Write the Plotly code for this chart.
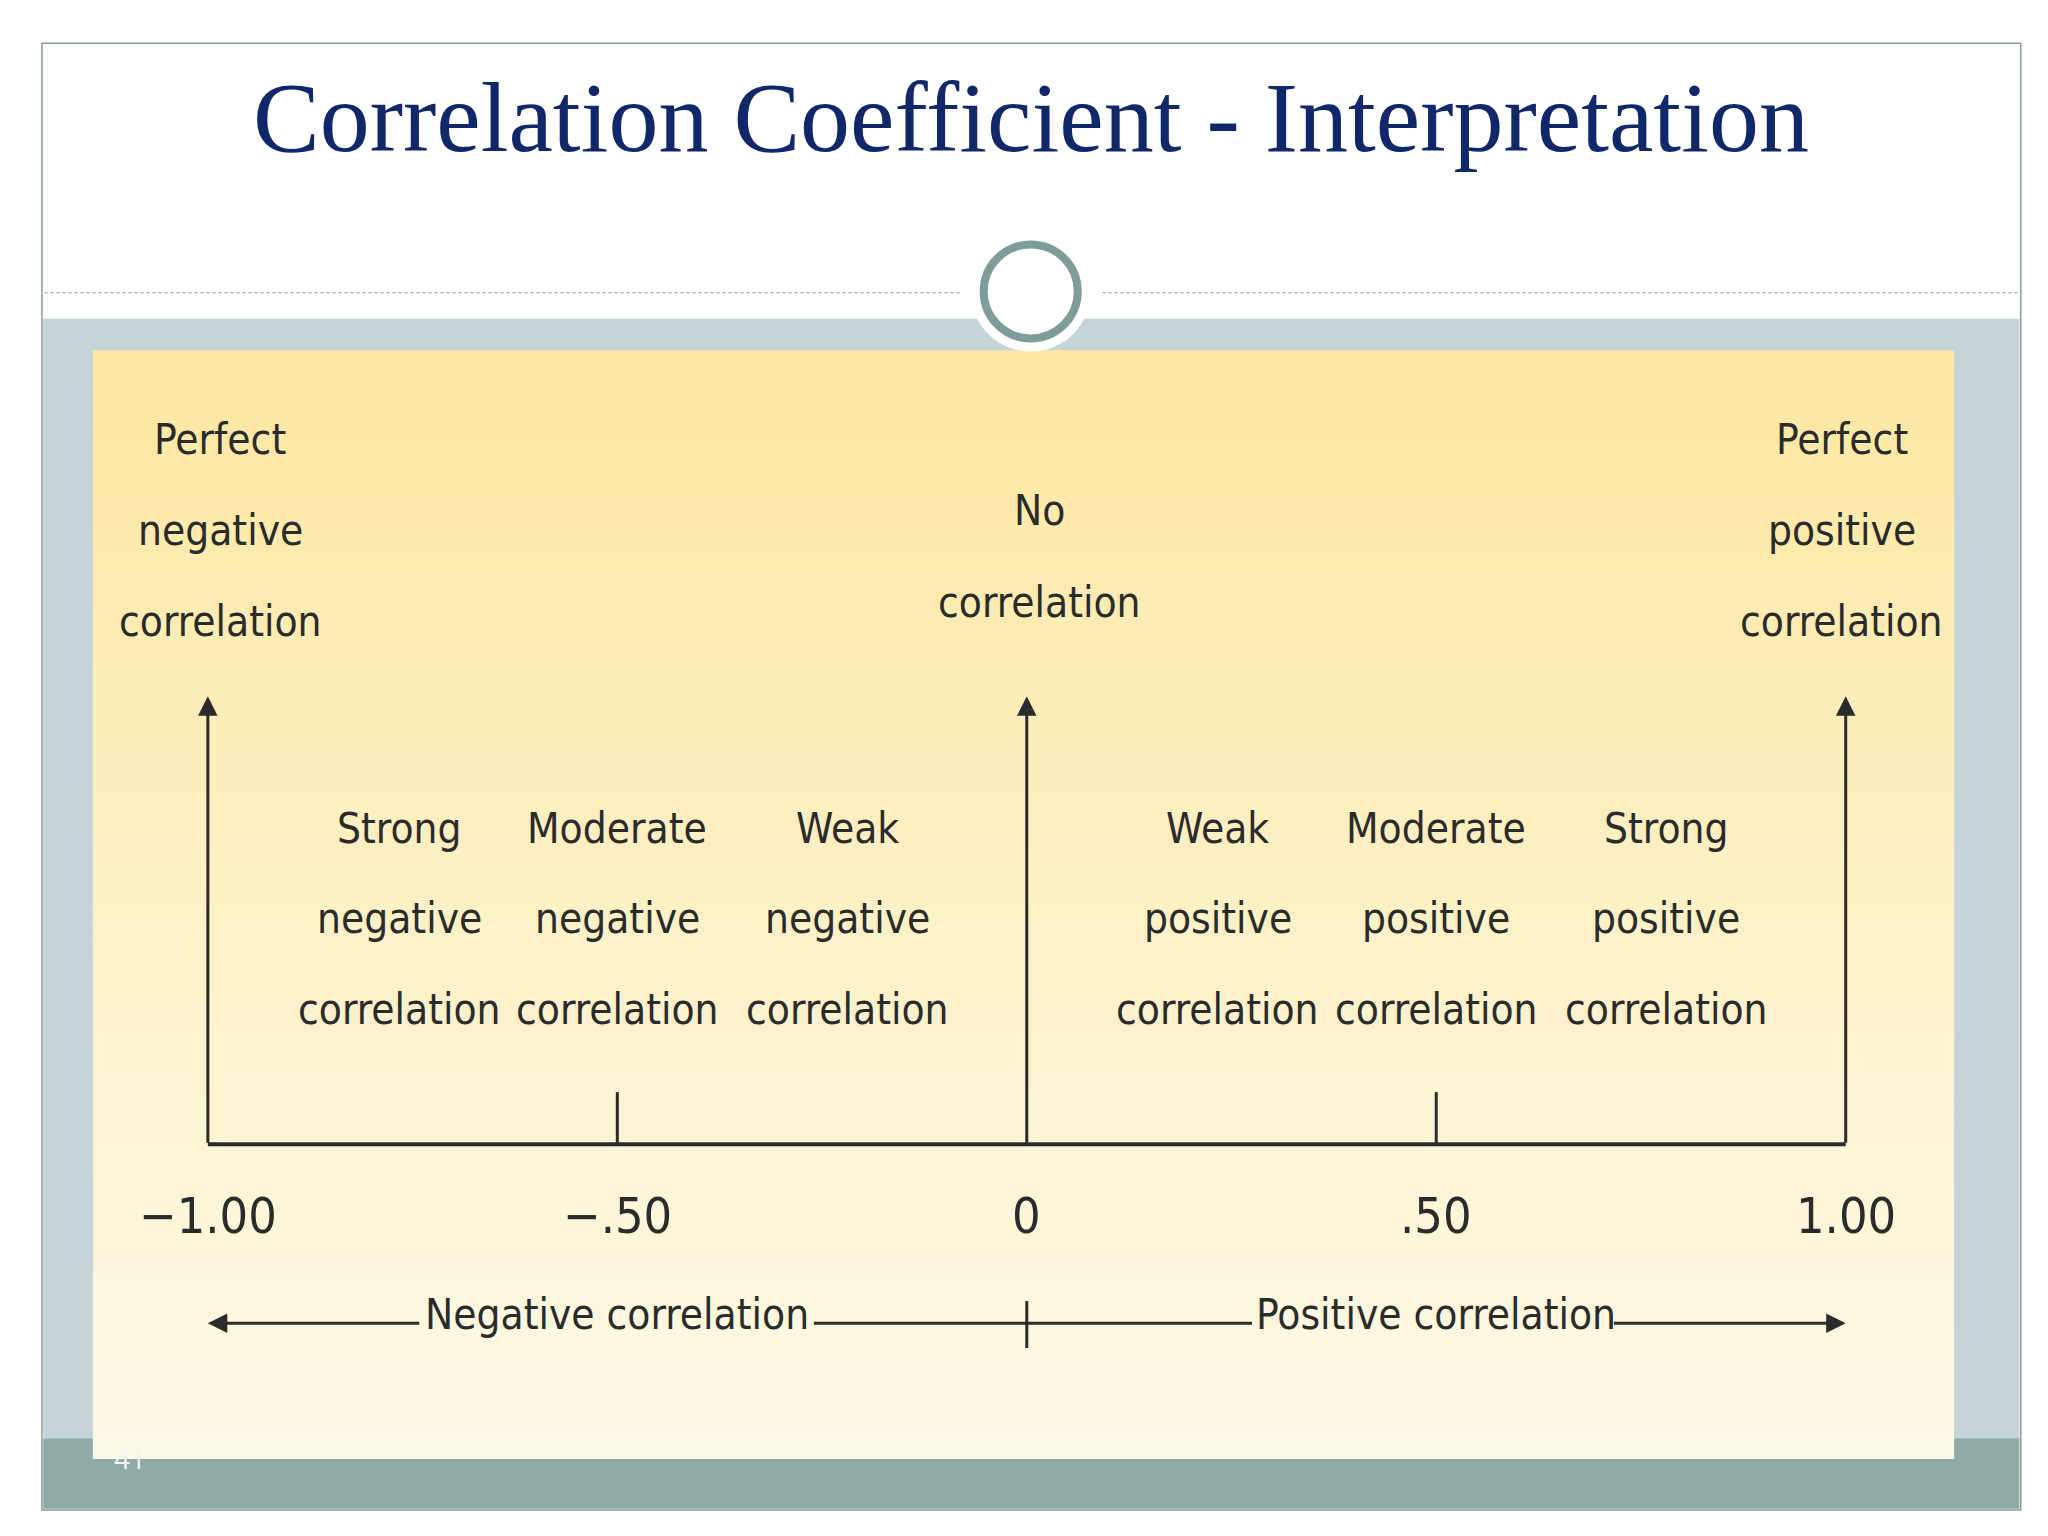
import plotly.graph_objects as go

# reference drawn on a 1568 x 1176 grid, rendered at 2048 x 1536
W, H = 2048, 1536
RW, RH = 1568, 1176

title = "Correlation Coefficient - Interpretation"
tick_vals = [-1.0, -0.5, 0.0, 0.5, 1.0]
tick_text = ["\u22121.00", "\u2212.50", "0", ".50", "1.00"]
minor_ticks = [-0.5, 0.5]
arrow_vals = [-1.0, 0.0, 1.0]

top_labels = [["Perfect", "negative", "correlation"], ["No", "correlation"], ["Perfect", "positive", "correlation"]]
top_x = [-0.985, 0.015, 0.995]
top_rows = [[330, 400, 470], [385, 455], [330, 400, 470]]

mid_labels = [["Strong", "negative", "correlation"], ["Moderate", "negative", "correlation"],
              ["Weak", "negative", "correlation"], ["Weak", "positive", "correlation"],
              ["Moderate", "positive", "correlation"], ["Strong", "positive", "correlation"]]
mid_x = [-0.766, -0.5, -0.219, 0.233, 0.5, 0.781]
mid_rows = [628, 697, 767]

bottom_labels = ["Negative correlation", "Positive correlation"]
bottom_x = [-0.5, 0.5]

FONT = "DejaVu Sans Condensed, Liberation Sans Narrow, sans-serif"
INK = "#2b2b2b"


def px(x):
    return x / RW


def py(y):
    return 1 - y / RH


fig = go.Figure()
shapes = []
ann = []

# slide frame
shapes.append(dict(type="rect", xref="paper", yref="paper", x0=px(26), x1=px(1541), y0=py(1150), y1=py(27),
                   fillcolor="white", line=dict(color="#8a9a9a", width=1.5), layer="below"))
shapes.append(dict(type="rect", xref="paper", yref="paper", x0=px(27), x1=px(1540), y0=py(1095), y1=py(238),
                   fillcolor="#c6d3d8", line_width=0, layer="below"))
shapes.append(dict(type="rect", xref="paper", yref="paper", x0=px(27), x1=px(1540), y0=py(1149), y1=py(1095),
                   fillcolor="#8eaba8", line_width=0, layer="below"))
for a, b in [(28, 730), (838, 1540)]:
    shapes.append(dict(type="line", xref="paper", yref="paper", x0=px(a), x1=px(b), y0=py(218), y1=py(218),
                       line=dict(color="#8a9a9a", width=1.2, dash="dot"), layer="below"))

# yellow gradient panel
top_c, bot_c = (253, 232, 163), (254, 250, 232)
n = 60
y0, y1 = 262, 1110
for i in range(n):
    t = i / (n - 1)
    c = tuple(int(top_c[k] + (bot_c[k] - top_c[k]) * t) for k in range(3))
    a = y0 + (y1 - y0) * i / n
    b = y0 + (y1 - y0) * (i + 1) / n + 1
    shapes.append(dict(type="rect", xref="paper", yref="paper", x0=px(65), x1=px(1490), y0=py(b), y1=py(a),
                       fillcolor="rgb(%d,%d,%d)" % c, line_width=0, layer="below"))

# circle ornament
r1, r2 = 46, 36
shapes.append(dict(type="circle", xref="paper", yref="paper", x0=px(783 - r1), x1=px(783 + r1),
                   y0=1 - (217 + r1) / RH, y1=1 - (217 - r1) / RH, fillcolor="white", line_width=0))
shapes.append(dict(type="circle", xref="paper", yref="paper", x0=px(783 - r2), x1=px(783 + r2),
                   y0=1 - (217 + r2) / RH, y1=1 - (217 - r2) / RH, fillcolor="white",
                   line=dict(color="#7d9c9a", width=8)))

# main axis
shapes.append(dict(type="line", xref="x", yref="y", x0=tick_vals[0], x1=tick_vals[-1], y0=870, y1=870,
                   line=dict(color=INK, width=4)))
for v in minor_ticks:
    shapes.append(dict(type="line", xref="x", yref="y", x0=v, x1=v, y0=830, y1=870, line=dict(color=INK, width=3)))
for v in arrow_vals:
    ann.append(dict(x=v, y=527, ax=v, ay=870, xref="x", yref="y", axref="x", ayref="y", text="",
                    showarrow=True, arrowhead=2, arrowsize=1.3, arrowwidth=3, arrowcolor=INK))

# bottom direction line
shapes.append(dict(type="line", xref="x", yref="y", x0=-0.26, x1=0.275, y0=1007, y1=1007,
                   line=dict(color=INK, width=3)))
shapes.append(dict(type="line", xref="x", yref="y", x0=0, x1=0, y0=990, y1=1026, line=dict(color=INK, width=3)))
ann.append(dict(x=-1.0, y=1007, ax=-0.74, ay=1007, xref="x", yref="y", axref="x", ayref="y", text="",
                showarrow=True, arrowhead=2, arrowsize=1.3, arrowwidth=3, arrowcolor=INK))
ann.append(dict(x=1.0, y=1007, ax=0.715, ay=1007, xref="x", yref="y", axref="x", ayref="y", text="",
                showarrow=True, arrowhead=2, arrowsize=1.3, arrowwidth=3, arrowcolor=INK))

# texts
for v, t in zip(tick_vals, tick_text):
    ann.append(dict(x=v, y=925, xref="x", yref="y", text=t, showarrow=False,
                    font=dict(family=FONT, size=50, color=INK)))
for lines, x, rows in zip(top_labels, top_x, top_rows):
    for s, y in zip(lines, rows):
        ann.append(dict(x=x, y=y, xref="x", yref="y", text=s, showarrow=False,
                        font=dict(family=FONT, size=42, color=INK)))
for lines, x in zip(mid_labels, mid_x):
    for s, y in zip(lines, mid_rows):
        ann.append(dict(x=x, y=y, xref="x", yref="y", text=s, showarrow=False,
                        font=dict(family=FONT, size=42, color=INK)))
for s, x in zip(bottom_labels, bottom_x):
    ann.append(dict(x=x, y=1000, xref="x", yref="y", text=s, showarrow=False,
                    font=dict(family=FONT, size=42, color=INK)))

ann.append(dict(x=px(783), y=py(84), xref="paper", yref="paper", yanchor="middle", text=title, showarrow=False,
                font=dict(family="Liberation Serif, DejaVu Serif, serif", size=100, color="#10286a")))
ann.append(dict(x=px(80), y=py(1126), xref="paper", yref="paper", text="41", showarrow=False,
                font=dict(family="Open Sans, sans-serif", size=28, color="#f2f6f6")))

fig.update_layout(
    width=W, height=H, margin=dict(l=0, r=0, t=0, b=0),
    paper_bgcolor="white", plot_bgcolor="rgba(0,0,0,0)",
    shapes=shapes, annotations=ann, showlegend=False,
    xaxis=dict(range=[-1 - 153 / 627, 1 + 161 / 627], visible=False, fixedrange=True),
    yaxis=dict(range=[RH, 0], visible=False, fixedrange=True),
)

fig.write_html("out.html")
